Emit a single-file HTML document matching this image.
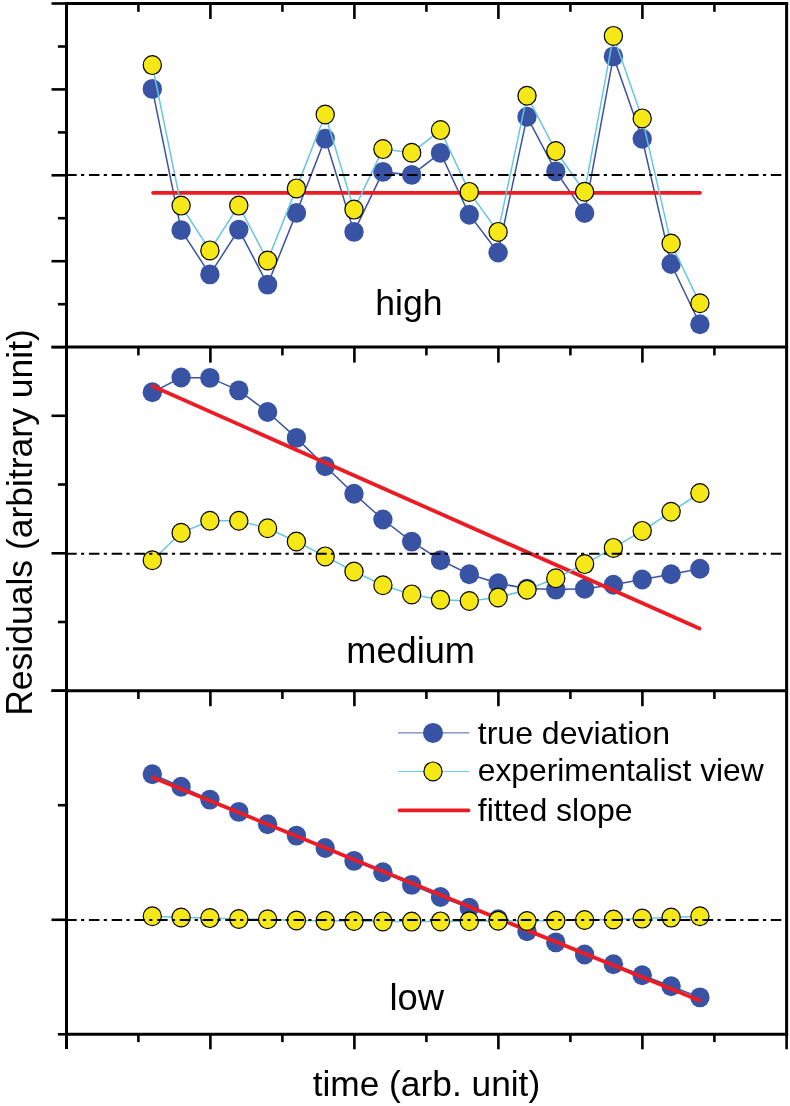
<!DOCTYPE html>
<html><head><meta charset="utf-8"><style>
html,body{margin:0;padding:0;background:#fff;width:790px;height:1106px;overflow:hidden;}
svg{display:block;will-change:transform;}
text{font-family:"Liberation Sans",sans-serif;fill:#000;}
</style></head><body>
<svg width="790" height="1106" viewBox="0 0 790 1106">
<rect x="0" y="0" width="790" height="1106" fill="#fff"/>
<polyline points="152.3,88.9 181.1,230.1 209.9,274.4 238.8,229.6 267.6,284.6 296.4,212.9 325.2,138.6 354.0,231.9 382.9,171.9 411.7,174.9 440.5,152.9 469.3,214.7 498.1,252.5 527.0,116.7 555.8,171.4 584.6,213.0 613.4,56.4 642.2,138.8 671.1,264.0 699.9,324.2" fill="none" stroke="#3953a4" stroke-width="1.5"/>
<ellipse cx="152.3" cy="88.9" rx="9.7" ry="9.95" fill="#3953a4"/>
<ellipse cx="181.1" cy="230.1" rx="9.7" ry="9.95" fill="#3953a4"/>
<ellipse cx="209.9" cy="274.4" rx="9.7" ry="9.95" fill="#3953a4"/>
<ellipse cx="238.8" cy="229.6" rx="9.7" ry="9.95" fill="#3953a4"/>
<ellipse cx="267.6" cy="284.6" rx="9.7" ry="9.95" fill="#3953a4"/>
<ellipse cx="296.4" cy="212.9" rx="9.7" ry="9.95" fill="#3953a4"/>
<ellipse cx="325.2" cy="138.6" rx="9.7" ry="9.95" fill="#3953a4"/>
<ellipse cx="354.0" cy="231.9" rx="9.7" ry="9.95" fill="#3953a4"/>
<ellipse cx="382.9" cy="171.9" rx="9.7" ry="9.95" fill="#3953a4"/>
<ellipse cx="411.7" cy="174.9" rx="9.7" ry="9.95" fill="#3953a4"/>
<ellipse cx="440.5" cy="152.9" rx="9.7" ry="9.95" fill="#3953a4"/>
<ellipse cx="469.3" cy="214.7" rx="9.7" ry="9.95" fill="#3953a4"/>
<ellipse cx="498.1" cy="252.5" rx="9.7" ry="9.95" fill="#3953a4"/>
<ellipse cx="527.0" cy="116.7" rx="9.7" ry="9.95" fill="#3953a4"/>
<ellipse cx="555.8" cy="171.4" rx="9.7" ry="9.95" fill="#3953a4"/>
<ellipse cx="584.6" cy="213.0" rx="9.7" ry="9.95" fill="#3953a4"/>
<ellipse cx="613.4" cy="56.4" rx="9.7" ry="9.95" fill="#3953a4"/>
<ellipse cx="642.2" cy="138.8" rx="9.7" ry="9.95" fill="#3953a4"/>
<ellipse cx="671.1" cy="264.0" rx="9.7" ry="9.95" fill="#3953a4"/>
<ellipse cx="699.9" cy="324.2" rx="9.7" ry="9.95" fill="#3953a4"/>
<line x1="153.1" y1="192.8" x2="700.0" y2="192.8" stroke="#ed1c24" stroke-width="3.8" stroke-linecap="round"/>
<polyline points="152.3,65.1 181.1,205.6 209.9,250.4 238.8,205.6 267.6,260.5 296.4,188.4 325.2,114.5 354.0,209.6 382.9,149.1 411.7,152.7 440.5,130.1 469.3,191.9 498.1,231.9 527.0,95.7 555.8,151.0 584.6,191.8 613.4,35.9 642.2,118.4 671.1,243.6 699.9,303.3" fill="none" stroke="#66c7de" stroke-width="1.5"/>
<ellipse cx="152.3" cy="65.1" rx="9.1" ry="9.4" fill="#f5e816" stroke="#000" stroke-width="1.2"/>
<ellipse cx="181.1" cy="205.6" rx="9.1" ry="9.4" fill="#f5e816" stroke="#000" stroke-width="1.2"/>
<ellipse cx="209.9" cy="250.4" rx="9.1" ry="9.4" fill="#f5e816" stroke="#000" stroke-width="1.2"/>
<ellipse cx="238.8" cy="205.6" rx="9.1" ry="9.4" fill="#f5e816" stroke="#000" stroke-width="1.2"/>
<ellipse cx="267.6" cy="260.5" rx="9.1" ry="9.4" fill="#f5e816" stroke="#000" stroke-width="1.2"/>
<ellipse cx="296.4" cy="188.4" rx="9.1" ry="9.4" fill="#f5e816" stroke="#000" stroke-width="1.2"/>
<ellipse cx="325.2" cy="114.5" rx="9.1" ry="9.4" fill="#f5e816" stroke="#000" stroke-width="1.2"/>
<ellipse cx="354.0" cy="209.6" rx="9.1" ry="9.4" fill="#f5e816" stroke="#000" stroke-width="1.2"/>
<ellipse cx="382.9" cy="149.1" rx="9.1" ry="9.4" fill="#f5e816" stroke="#000" stroke-width="1.2"/>
<ellipse cx="411.7" cy="152.7" rx="9.1" ry="9.4" fill="#f5e816" stroke="#000" stroke-width="1.2"/>
<ellipse cx="440.5" cy="130.1" rx="9.1" ry="9.4" fill="#f5e816" stroke="#000" stroke-width="1.2"/>
<ellipse cx="469.3" cy="191.9" rx="9.1" ry="9.4" fill="#f5e816" stroke="#000" stroke-width="1.2"/>
<ellipse cx="498.1" cy="231.9" rx="9.1" ry="9.4" fill="#f5e816" stroke="#000" stroke-width="1.2"/>
<ellipse cx="527.0" cy="95.7" rx="9.1" ry="9.4" fill="#f5e816" stroke="#000" stroke-width="1.2"/>
<ellipse cx="555.8" cy="151.0" rx="9.1" ry="9.4" fill="#f5e816" stroke="#000" stroke-width="1.2"/>
<ellipse cx="584.6" cy="191.8" rx="9.1" ry="9.4" fill="#f5e816" stroke="#000" stroke-width="1.2"/>
<ellipse cx="613.4" cy="35.9" rx="9.1" ry="9.4" fill="#f5e816" stroke="#000" stroke-width="1.2"/>
<ellipse cx="642.2" cy="118.4" rx="9.1" ry="9.4" fill="#f5e816" stroke="#000" stroke-width="1.2"/>
<ellipse cx="671.1" cy="243.6" rx="9.1" ry="9.4" fill="#f5e816" stroke="#000" stroke-width="1.2"/>
<ellipse cx="699.9" cy="303.3" rx="9.1" ry="9.4" fill="#f5e816" stroke="#000" stroke-width="1.2"/>
<line x1="66.2" y1="175.0" x2="786.6" y2="175.0" stroke="#000" stroke-width="2.1" stroke-dasharray="10.5 4.3 3.2 4.73"/>
<polyline points="152.3,392.3 181.1,377.5 209.9,377.9 238.8,390.4 267.6,412.0 296.4,437.9 325.2,466.3 354.0,493.7 382.9,519.5 411.7,541.6 440.5,560.2 469.3,574.2 498.1,583.3 527.0,588.6 555.8,589.6 584.6,588.8 613.4,584.7 642.2,579.5 671.1,574.2 699.9,568.8" fill="none" stroke="#3953a4" stroke-width="1.5"/>
<ellipse cx="152.3" cy="392.3" rx="9.7" ry="9.95" fill="#3953a4"/>
<ellipse cx="181.1" cy="377.5" rx="9.7" ry="9.95" fill="#3953a4"/>
<ellipse cx="209.9" cy="377.9" rx="9.7" ry="9.95" fill="#3953a4"/>
<ellipse cx="238.8" cy="390.4" rx="9.7" ry="9.95" fill="#3953a4"/>
<ellipse cx="267.6" cy="412.0" rx="9.7" ry="9.95" fill="#3953a4"/>
<ellipse cx="296.4" cy="437.9" rx="9.7" ry="9.95" fill="#3953a4"/>
<ellipse cx="325.2" cy="466.3" rx="9.7" ry="9.95" fill="#3953a4"/>
<ellipse cx="354.0" cy="493.7" rx="9.7" ry="9.95" fill="#3953a4"/>
<ellipse cx="382.9" cy="519.5" rx="9.7" ry="9.95" fill="#3953a4"/>
<ellipse cx="411.7" cy="541.6" rx="9.7" ry="9.95" fill="#3953a4"/>
<ellipse cx="440.5" cy="560.2" rx="9.7" ry="9.95" fill="#3953a4"/>
<ellipse cx="469.3" cy="574.2" rx="9.7" ry="9.95" fill="#3953a4"/>
<ellipse cx="498.1" cy="583.3" rx="9.7" ry="9.95" fill="#3953a4"/>
<ellipse cx="527.0" cy="588.6" rx="9.7" ry="9.95" fill="#3953a4"/>
<ellipse cx="555.8" cy="589.6" rx="9.7" ry="9.95" fill="#3953a4"/>
<ellipse cx="584.6" cy="588.8" rx="9.7" ry="9.95" fill="#3953a4"/>
<ellipse cx="613.4" cy="584.7" rx="9.7" ry="9.95" fill="#3953a4"/>
<ellipse cx="642.2" cy="579.5" rx="9.7" ry="9.95" fill="#3953a4"/>
<ellipse cx="671.1" cy="574.2" rx="9.7" ry="9.95" fill="#3953a4"/>
<ellipse cx="699.9" cy="568.8" rx="9.7" ry="9.95" fill="#3953a4"/>
<line x1="152.8" y1="386.2" x2="699.5" y2="628.6" stroke="#ed1c24" stroke-width="3.8" stroke-linecap="round"/>
<polyline points="152.3,560.2 181.1,532.8 209.9,520.7 238.8,520.7 267.6,528.2 296.4,541.5 325.2,556.4 354.0,571.5 382.9,585.2 411.7,594.4 440.5,599.8 469.3,601.0 498.1,597.5 527.0,589.8 555.8,578.2 584.6,564.1 613.4,547.9 642.2,530.9 671.1,511.8 699.9,493.0" fill="none" stroke="#66c7de" stroke-width="1.5"/>
<ellipse cx="152.3" cy="560.2" rx="9.1" ry="9.4" fill="#f5e816" stroke="#000" stroke-width="1.2"/>
<ellipse cx="181.1" cy="532.8" rx="9.1" ry="9.4" fill="#f5e816" stroke="#000" stroke-width="1.2"/>
<ellipse cx="209.9" cy="520.7" rx="9.1" ry="9.4" fill="#f5e816" stroke="#000" stroke-width="1.2"/>
<ellipse cx="238.8" cy="520.7" rx="9.1" ry="9.4" fill="#f5e816" stroke="#000" stroke-width="1.2"/>
<ellipse cx="267.6" cy="528.2" rx="9.1" ry="9.4" fill="#f5e816" stroke="#000" stroke-width="1.2"/>
<ellipse cx="296.4" cy="541.5" rx="9.1" ry="9.4" fill="#f5e816" stroke="#000" stroke-width="1.2"/>
<ellipse cx="325.2" cy="556.4" rx="9.1" ry="9.4" fill="#f5e816" stroke="#000" stroke-width="1.2"/>
<ellipse cx="354.0" cy="571.5" rx="9.1" ry="9.4" fill="#f5e816" stroke="#000" stroke-width="1.2"/>
<ellipse cx="382.9" cy="585.2" rx="9.1" ry="9.4" fill="#f5e816" stroke="#000" stroke-width="1.2"/>
<ellipse cx="411.7" cy="594.4" rx="9.1" ry="9.4" fill="#f5e816" stroke="#000" stroke-width="1.2"/>
<ellipse cx="440.5" cy="599.8" rx="9.1" ry="9.4" fill="#f5e816" stroke="#000" stroke-width="1.2"/>
<ellipse cx="469.3" cy="601.0" rx="9.1" ry="9.4" fill="#f5e816" stroke="#000" stroke-width="1.2"/>
<ellipse cx="498.1" cy="597.5" rx="9.1" ry="9.4" fill="#f5e816" stroke="#000" stroke-width="1.2"/>
<ellipse cx="527.0" cy="589.8" rx="9.1" ry="9.4" fill="#f5e816" stroke="#000" stroke-width="1.2"/>
<ellipse cx="555.8" cy="578.2" rx="9.1" ry="9.4" fill="#f5e816" stroke="#000" stroke-width="1.2"/>
<ellipse cx="584.6" cy="564.1" rx="9.1" ry="9.4" fill="#f5e816" stroke="#000" stroke-width="1.2"/>
<ellipse cx="613.4" cy="547.9" rx="9.1" ry="9.4" fill="#f5e816" stroke="#000" stroke-width="1.2"/>
<ellipse cx="642.2" cy="530.9" rx="9.1" ry="9.4" fill="#f5e816" stroke="#000" stroke-width="1.2"/>
<ellipse cx="671.1" cy="511.8" rx="9.1" ry="9.4" fill="#f5e816" stroke="#000" stroke-width="1.2"/>
<ellipse cx="699.9" cy="493.0" rx="9.1" ry="9.4" fill="#f5e816" stroke="#000" stroke-width="1.2"/>
<line x1="66.2" y1="553.7" x2="786.6" y2="553.7" stroke="#000" stroke-width="2.1" stroke-dasharray="10.5 4.3 3.2 4.73"/>
<polyline points="152.3,774.2 181.1,786.8 209.9,799.6 238.8,811.9 267.6,824.2 296.4,835.6 325.2,848.0 354.0,860.9 382.9,872.3 411.7,884.9 440.5,897.0 469.3,907.8 498.1,919.3 527.0,931.2 555.8,942.4 584.6,954.5 613.4,964.3 642.2,975.3 671.1,986.2 699.9,997.4" fill="none" stroke="#3953a4" stroke-width="1.5"/>
<ellipse cx="152.3" cy="774.2" rx="9.7" ry="9.95" fill="#3953a4"/>
<ellipse cx="181.1" cy="786.8" rx="9.7" ry="9.95" fill="#3953a4"/>
<ellipse cx="209.9" cy="799.6" rx="9.7" ry="9.95" fill="#3953a4"/>
<ellipse cx="238.8" cy="811.9" rx="9.7" ry="9.95" fill="#3953a4"/>
<ellipse cx="267.6" cy="824.2" rx="9.7" ry="9.95" fill="#3953a4"/>
<ellipse cx="296.4" cy="835.6" rx="9.7" ry="9.95" fill="#3953a4"/>
<ellipse cx="325.2" cy="848.0" rx="9.7" ry="9.95" fill="#3953a4"/>
<ellipse cx="354.0" cy="860.9" rx="9.7" ry="9.95" fill="#3953a4"/>
<ellipse cx="382.9" cy="872.3" rx="9.7" ry="9.95" fill="#3953a4"/>
<ellipse cx="411.7" cy="884.9" rx="9.7" ry="9.95" fill="#3953a4"/>
<ellipse cx="440.5" cy="897.0" rx="9.7" ry="9.95" fill="#3953a4"/>
<ellipse cx="469.3" cy="907.8" rx="9.7" ry="9.95" fill="#3953a4"/>
<ellipse cx="498.1" cy="919.3" rx="9.7" ry="9.95" fill="#3953a4"/>
<ellipse cx="527.0" cy="931.2" rx="9.7" ry="9.95" fill="#3953a4"/>
<ellipse cx="555.8" cy="942.4" rx="9.7" ry="9.95" fill="#3953a4"/>
<ellipse cx="584.6" cy="954.5" rx="9.7" ry="9.95" fill="#3953a4"/>
<ellipse cx="613.4" cy="964.3" rx="9.7" ry="9.95" fill="#3953a4"/>
<ellipse cx="642.2" cy="975.3" rx="9.7" ry="9.95" fill="#3953a4"/>
<ellipse cx="671.1" cy="986.2" rx="9.7" ry="9.95" fill="#3953a4"/>
<ellipse cx="699.9" cy="997.4" rx="9.7" ry="9.95" fill="#3953a4"/>
<line x1="152.8" y1="777.4" x2="699.7" y2="1000.6" stroke="#ed1c24" stroke-width="3.8" stroke-linecap="round"/>
<polyline points="152.3,916.2 181.1,917.5 209.9,918.1 238.8,919.0 267.6,919.3 296.4,920.5 325.2,920.8 354.0,921.0 382.9,921.4 411.7,921.6 440.5,921.4 469.3,921.3 498.1,920.8 527.0,921.0 555.8,920.6 584.6,920.0 613.4,919.5 642.2,918.6 671.1,917.6 699.9,916.2" fill="none" stroke="#66c7de" stroke-width="1.5"/>
<ellipse cx="152.3" cy="916.2" rx="9.1" ry="9.4" fill="#f5e816" stroke="#000" stroke-width="1.2"/>
<ellipse cx="181.1" cy="917.5" rx="9.1" ry="9.4" fill="#f5e816" stroke="#000" stroke-width="1.2"/>
<ellipse cx="209.9" cy="918.1" rx="9.1" ry="9.4" fill="#f5e816" stroke="#000" stroke-width="1.2"/>
<ellipse cx="238.8" cy="919.0" rx="9.1" ry="9.4" fill="#f5e816" stroke="#000" stroke-width="1.2"/>
<ellipse cx="267.6" cy="919.3" rx="9.1" ry="9.4" fill="#f5e816" stroke="#000" stroke-width="1.2"/>
<ellipse cx="296.4" cy="920.5" rx="9.1" ry="9.4" fill="#f5e816" stroke="#000" stroke-width="1.2"/>
<ellipse cx="325.2" cy="920.8" rx="9.1" ry="9.4" fill="#f5e816" stroke="#000" stroke-width="1.2"/>
<ellipse cx="354.0" cy="921.0" rx="9.1" ry="9.4" fill="#f5e816" stroke="#000" stroke-width="1.2"/>
<ellipse cx="382.9" cy="921.4" rx="9.1" ry="9.4" fill="#f5e816" stroke="#000" stroke-width="1.2"/>
<ellipse cx="411.7" cy="921.6" rx="9.1" ry="9.4" fill="#f5e816" stroke="#000" stroke-width="1.2"/>
<ellipse cx="440.5" cy="921.4" rx="9.1" ry="9.4" fill="#f5e816" stroke="#000" stroke-width="1.2"/>
<ellipse cx="469.3" cy="921.3" rx="9.1" ry="9.4" fill="#f5e816" stroke="#000" stroke-width="1.2"/>
<ellipse cx="498.1" cy="920.8" rx="9.1" ry="9.4" fill="#f5e816" stroke="#000" stroke-width="1.2"/>
<ellipse cx="527.0" cy="921.0" rx="9.1" ry="9.4" fill="#f5e816" stroke="#000" stroke-width="1.2"/>
<ellipse cx="555.8" cy="920.6" rx="9.1" ry="9.4" fill="#f5e816" stroke="#000" stroke-width="1.2"/>
<ellipse cx="584.6" cy="920.0" rx="9.1" ry="9.4" fill="#f5e816" stroke="#000" stroke-width="1.2"/>
<ellipse cx="613.4" cy="919.5" rx="9.1" ry="9.4" fill="#f5e816" stroke="#000" stroke-width="1.2"/>
<ellipse cx="642.2" cy="918.6" rx="9.1" ry="9.4" fill="#f5e816" stroke="#000" stroke-width="1.2"/>
<ellipse cx="671.1" cy="917.6" rx="9.1" ry="9.4" fill="#f5e816" stroke="#000" stroke-width="1.2"/>
<ellipse cx="699.9" cy="916.2" rx="9.1" ry="9.4" fill="#f5e816" stroke="#000" stroke-width="1.2"/>
<line x1="66.2" y1="920.0" x2="786.6" y2="920.0" stroke="#000" stroke-width="2.1" stroke-dasharray="10.5 4.3 3.2 4.73"/>
<g stroke="#000" stroke-width="3" fill="none">
<line x1="65.0" y1="3.5" x2="788.1" y2="3.5"/>
<line x1="65.0" y1="347.1" x2="788.1" y2="347.1"/>
<line x1="65.0" y1="690.7" x2="788.1" y2="690.7"/>
<line x1="65.0" y1="1034.3" x2="788.1" y2="1034.3"/>
<line x1="66.5" y1="2.0" x2="66.5" y2="1049"/>
<line x1="786.6" y1="2.0" x2="786.6" y2="1035.8"/>
</g>
<g stroke="#000" stroke-width="2.6" fill="none">
<line x1="138.4" y1="3.5" x2="138.4" y2="11.8"/>
<line x1="210.4" y1="3.5" x2="210.4" y2="19.0"/>
<line x1="282.4" y1="3.5" x2="282.4" y2="11.8"/>
<line x1="354.4" y1="3.5" x2="354.4" y2="19.0"/>
<line x1="426.4" y1="3.5" x2="426.4" y2="11.8"/>
<line x1="498.4" y1="3.5" x2="498.4" y2="19.0"/>
<line x1="570.4" y1="3.5" x2="570.4" y2="11.8"/>
<line x1="642.4" y1="3.5" x2="642.4" y2="19.0"/>
<line x1="714.4" y1="3.5" x2="714.4" y2="11.8"/>
<line x1="138.4" y1="347.1" x2="138.4" y2="355.40000000000003"/>
<line x1="210.4" y1="347.1" x2="210.4" y2="362.6"/>
<line x1="282.4" y1="347.1" x2="282.4" y2="355.40000000000003"/>
<line x1="354.4" y1="347.1" x2="354.4" y2="362.6"/>
<line x1="426.4" y1="347.1" x2="426.4" y2="355.40000000000003"/>
<line x1="498.4" y1="347.1" x2="498.4" y2="362.6"/>
<line x1="570.4" y1="347.1" x2="570.4" y2="355.40000000000003"/>
<line x1="642.4" y1="347.1" x2="642.4" y2="362.6"/>
<line x1="714.4" y1="347.1" x2="714.4" y2="355.40000000000003"/>
<line x1="138.4" y1="690.7" x2="138.4" y2="699.0"/>
<line x1="210.4" y1="690.7" x2="210.4" y2="706.2"/>
<line x1="282.4" y1="690.7" x2="282.4" y2="699.0"/>
<line x1="354.4" y1="690.7" x2="354.4" y2="706.2"/>
<line x1="426.4" y1="690.7" x2="426.4" y2="699.0"/>
<line x1="498.4" y1="690.7" x2="498.4" y2="706.2"/>
<line x1="570.4" y1="690.7" x2="570.4" y2="699.0"/>
<line x1="642.4" y1="690.7" x2="642.4" y2="706.2"/>
<line x1="714.4" y1="690.7" x2="714.4" y2="699.0"/>
<line x1="138.4" y1="1034.3" x2="138.4" y2="1042.1"/>
<line x1="210.4" y1="1034.3" x2="210.4" y2="1049.3"/>
<line x1="282.4" y1="1034.3" x2="282.4" y2="1042.1"/>
<line x1="354.4" y1="1034.3" x2="354.4" y2="1049.3"/>
<line x1="426.4" y1="1034.3" x2="426.4" y2="1042.1"/>
<line x1="498.4" y1="1034.3" x2="498.4" y2="1049.3"/>
<line x1="570.4" y1="1034.3" x2="570.4" y2="1042.1"/>
<line x1="642.4" y1="1034.3" x2="642.4" y2="1049.3"/>
<line x1="714.4" y1="1034.3" x2="714.4" y2="1042.1"/>
<line x1="786.6" y1="1034.3" x2="786.6" y2="1049.3"/>
<line x1="51.5" y1="3.5" x2="66.5" y2="3.5"/>
<line x1="57.9" y1="46.5" x2="66.5" y2="46.5"/>
<line x1="51.5" y1="89.4" x2="66.5" y2="89.4"/>
<line x1="57.9" y1="132.4" x2="66.5" y2="132.4"/>
<line x1="51.5" y1="175.3" x2="66.5" y2="175.3"/>
<line x1="57.9" y1="218.2" x2="66.5" y2="218.2"/>
<line x1="51.5" y1="261.2" x2="66.5" y2="261.2"/>
<line x1="57.9" y1="304.2" x2="66.5" y2="304.2"/>
<line x1="51.5" y1="347.1" x2="66.5" y2="347.1"/>
<line x1="51.5" y1="347.1" x2="66.5" y2="347.1"/>
<line x1="51.5" y1="415.8" x2="66.5" y2="415.8"/>
<line x1="57.9" y1="484.5" x2="66.5" y2="484.5"/>
<line x1="51.5" y1="553.3" x2="66.5" y2="553.3"/>
<line x1="57.9" y1="622.0" x2="66.5" y2="622.0"/>
<line x1="51.5" y1="690.7" x2="66.5" y2="690.7"/>
<line x1="51.5" y1="690.7" x2="66.5" y2="690.7"/>
<line x1="57.9" y1="805.2" x2="66.5" y2="805.2"/>
<line x1="51.5" y1="919.8" x2="66.5" y2="919.8"/>
<line x1="57.9" y1="1034.3" x2="66.5" y2="1034.3"/>
</g>
<line x1="398" y1="732.9" x2="469.5" y2="732.9" stroke="#6f7fbd" stroke-width="1.3"/>
<circle cx="433" cy="732.9" r="10" fill="#3953a4"/>
<line x1="398" y1="771.5" x2="469.5" y2="771.5" stroke="#72cde0" stroke-width="1.1"/>
<ellipse cx="433" cy="771.4" rx="9.1" ry="9.4" fill="#f5e816" stroke="#000" stroke-width="1.2"/>
<line x1="399.5" y1="810.3" x2="468.5" y2="810.3" stroke="#ed1c24" stroke-width="3.8" stroke-linecap="round"/>
<g style="font-size:32px">
<text x="477.8" y="743.6">true deviation</text>
<text x="477.8" y="781.4" style="font-size:31.75px">experimentalist view</text>
<text x="477.8" y="820.6">fitted slope</text>
</g>
<g style="font-size:35.5px" text-anchor="middle">
<text x="408.9" y="314.9">high</text>
<text x="410.6" y="662.8" style="font-size:36.2px">medium</text>
<text x="416.8" y="1009.9" style="font-size:36.4px">low</text>
<text x="426.4" y="1095.6" style="font-size:35.3px">time (arb. unit)</text>
<text text-anchor="start" transform="translate(32,715.84) rotate(-90) scale(1,1.065)">R</text>
<text text-anchor="start" transform="translate(32,690.2) rotate(-90)">esiduals (arbitrary unit)</text>
</g>
</svg></body></html>
